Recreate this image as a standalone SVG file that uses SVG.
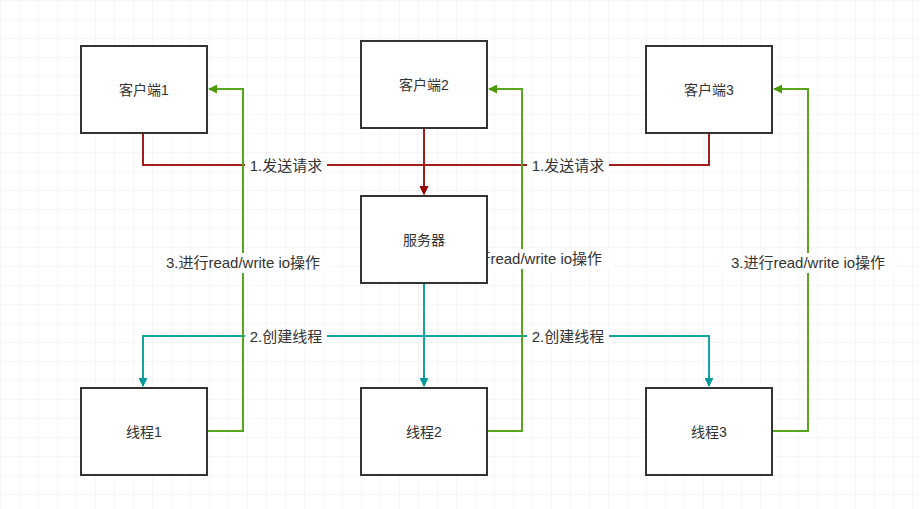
<svg xmlns="http://www.w3.org/2000/svg" width="920" height="509" viewBox="0 0 920 509">
<defs>
<pattern id="g" width="19" height="19" patternUnits="userSpaceOnUse" x="1" y="1"><path d="M19 0V19H0" fill="none" stroke="#ececec" stroke-width="1"/></pattern>
<marker id="ar" viewBox="0 0 10 10" refX="9" refY="5" markerWidth="4.5" markerHeight="4.5" orient="auto"><path d="M0 0L10 5L0 10z" fill="#990000"/></marker>
<marker id="at" viewBox="0 0 10 10" refX="9" refY="5" markerWidth="4.5" markerHeight="4.5" orient="auto"><path d="M0 0L10 5L0 10z" fill="#009999"/></marker>
<marker id="ag" viewBox="0 0 10 10" refX="9" refY="5" markerWidth="4.5" markerHeight="4.5" orient="auto"><path d="M0 0L10 5L0 10z" fill="#4d9900"/></marker>
<style>
.b{fill:#fff;stroke:#333;stroke-width:2}
.t{font-family:"Liberation Sans","Noto Sans CJK SC",sans-serif;font-size:14px;fill:#333;text-anchor:middle}
.l{font-family:"Liberation Sans","Noto Sans CJK SC",sans-serif;font-size:15px;fill:#333;text-anchor:middle}
.r{fill:none;stroke:#a41c1c;stroke-width:2}
.c{fill:none;stroke:#12a3a3;stroke-width:2}
.gr{fill:none;stroke:#5aa51f;stroke-width:2}
.bg{fill:#fff}
</style>
</defs>
<rect width="920" height="509" fill="#fff"/>
<rect width="920" height="509" fill="url(#g)"/>
<g id="connectors">
<path class="r" d="M143 133V165H424V194" marker-end="url(#ar)"/>
<path class="r" d="M709 133V165H424"/>
<path class="r" d="M424 128V194" marker-end="url(#ar)"/>
<path class="c" d="M424 283V386" marker-end="url(#at)"/>
<path class="c" d="M143 386V336H709V386" marker-end="url(#at)"/>
<path class="c" d="M143 336V386" marker-end="url(#at)"/>
<path class="gr" d="M207 431H243V89H209" marker-end="url(#ag)"/>
<path class="gr" d="M487 431H522V89H489" marker-end="url(#ag)"/>
<path class="gr" d="M772 431H808V89H774" marker-end="url(#ag)"/>
<rect class="bg" x="245" y="156" width="82" height="20"/>
<text class="l" x="286" y="171">1.发送请求</text>
<rect class="bg" x="527" y="156" width="82" height="20"/>
<text class="l" x="568" y="171">1.发送请求</text>
<rect class="bg" x="245" y="327" width="82" height="20"/>
<text class="l" x="286" y="342">2.创建线程</text>
<rect class="bg" x="527" y="327" width="82" height="20"/>
<text class="l" x="568" y="342">2.创建线程</text>
<rect class="bg" x="155" y="253" width="176" height="20"/>
<text class="l" x="243" y="268">3.进行read/write io操作</text>
<rect class="bg" x="437" y="249" width="176" height="20"/>
<text class="l" x="525" y="264">3.进行read/write io操作</text>
<rect class="bg" x="720" y="253" width="176" height="20"/>
<text class="l" x="808" y="268">3.进行read/write io操作</text>
</g>
<g id="client1"><rect class="b" x="81" y="46" width="126" height="87"/><text class="t" x="144" y="95">客户端1</text></g>
<g id="client2"><rect class="b" x="361" y="41" width="126" height="87"/><text class="t" x="424" y="90">客户端2</text></g>
<g id="client3"><rect class="b" x="646" y="46" width="126" height="87"/><text class="t" x="709" y="95">客户端3</text></g>
<g id="server"><rect class="b" x="361" y="196" width="126" height="87"/><text class="t" x="424" y="245">服务器</text></g>
<g id="thread1"><rect class="b" x="81" y="388" width="126" height="87"/><text class="t" x="144" y="437">线程1</text></g>
<g id="thread2"><rect class="b" x="361" y="388" width="126" height="87"/><text class="t" x="424" y="437">线程2</text></g>
<g id="thread3"><rect class="b" x="646" y="388" width="126" height="87"/><text class="t" x="709" y="437">线程3</text></g>
</svg>
